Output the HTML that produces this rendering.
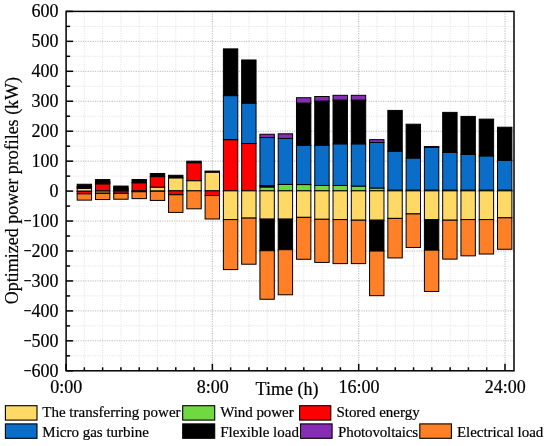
<!DOCTYPE html>
<html><head><meta charset="utf-8"><title>Optimized power profiles</title>
<style>
html,body{margin:0;padding:0;background:#fff;}
body{width:550px;height:446px;overflow:hidden;}
svg{display:block;}
svg text{font-family:"Liberation Serif","Times New Roman",serif;fill:#000;stroke:#000;stroke-width:0.2px;}
.t{font-size:18px;}
.l{font-size:15px;}
</style></head><body>
<svg width="550" height="446" viewBox="0 0 550 446">
<rect x="0" y="0" width="550" height="446" fill="#fff"/>
<g fill="none" stroke-width="0.9">
<line x1="84.34" y1="11.4" x2="84.34" y2="370.8" stroke="#dcdcdc" stroke-dasharray="1 1.4"/>
<line x1="102.63" y1="11.4" x2="102.63" y2="370.8" stroke="#dcdcdc" stroke-dasharray="1 1.4"/>
<line x1="120.92" y1="11.4" x2="120.92" y2="370.8" stroke="#dcdcdc" stroke-dasharray="1 1.4"/>
<line x1="139.21" y1="11.4" x2="139.21" y2="370.8" stroke="#dcdcdc" stroke-dasharray="1 1.4"/>
<line x1="157.50" y1="11.4" x2="157.50" y2="370.8" stroke="#dcdcdc" stroke-dasharray="1 1.4"/>
<line x1="175.79" y1="11.4" x2="175.79" y2="370.8" stroke="#dcdcdc" stroke-dasharray="1 1.4"/>
<line x1="194.08" y1="11.4" x2="194.08" y2="370.8" stroke="#dcdcdc" stroke-dasharray="1 1.4"/>
<line x1="212.37" y1="11.4" x2="212.37" y2="370.8" stroke="#b2b2b2" stroke-dasharray="1.2 1.2"/>
<line x1="230.66" y1="11.4" x2="230.66" y2="370.8" stroke="#dcdcdc" stroke-dasharray="1 1.4"/>
<line x1="248.95" y1="11.4" x2="248.95" y2="370.8" stroke="#dcdcdc" stroke-dasharray="1 1.4"/>
<line x1="267.24" y1="11.4" x2="267.24" y2="370.8" stroke="#dcdcdc" stroke-dasharray="1 1.4"/>
<line x1="285.53" y1="11.4" x2="285.53" y2="370.8" stroke="#dcdcdc" stroke-dasharray="1 1.4"/>
<line x1="303.82" y1="11.4" x2="303.82" y2="370.8" stroke="#dcdcdc" stroke-dasharray="1 1.4"/>
<line x1="322.11" y1="11.4" x2="322.11" y2="370.8" stroke="#dcdcdc" stroke-dasharray="1 1.4"/>
<line x1="340.40" y1="11.4" x2="340.40" y2="370.8" stroke="#dcdcdc" stroke-dasharray="1 1.4"/>
<line x1="358.69" y1="11.4" x2="358.69" y2="370.8" stroke="#b2b2b2" stroke-dasharray="1.2 1.2"/>
<line x1="376.98" y1="11.4" x2="376.98" y2="370.8" stroke="#dcdcdc" stroke-dasharray="1 1.4"/>
<line x1="395.27" y1="11.4" x2="395.27" y2="370.8" stroke="#dcdcdc" stroke-dasharray="1 1.4"/>
<line x1="413.56" y1="11.4" x2="413.56" y2="370.8" stroke="#dcdcdc" stroke-dasharray="1 1.4"/>
<line x1="431.85" y1="11.4" x2="431.85" y2="370.8" stroke="#dcdcdc" stroke-dasharray="1 1.4"/>
<line x1="450.14" y1="11.4" x2="450.14" y2="370.8" stroke="#dcdcdc" stroke-dasharray="1 1.4"/>
<line x1="468.43" y1="11.4" x2="468.43" y2="370.8" stroke="#dcdcdc" stroke-dasharray="1 1.4"/>
<line x1="486.72" y1="11.4" x2="486.72" y2="370.8" stroke="#dcdcdc" stroke-dasharray="1 1.4"/>
<line x1="505.01" y1="11.4" x2="505.01" y2="370.8" stroke="#b2b2b2" stroke-dasharray="1.2 1.2"/>
<line x1="66.1" y1="355.82" x2="514.0" y2="355.82" stroke="#dcdcdc" stroke-dasharray="1 1.4"/>
<line x1="66.1" y1="340.85" x2="514.0" y2="340.85" stroke="#b2b2b2" stroke-dasharray="1.2 1.2"/>
<line x1="66.1" y1="325.88" x2="514.0" y2="325.88" stroke="#dcdcdc" stroke-dasharray="1 1.4"/>
<line x1="66.1" y1="310.90" x2="514.0" y2="310.90" stroke="#b2b2b2" stroke-dasharray="1.2 1.2"/>
<line x1="66.1" y1="295.93" x2="514.0" y2="295.93" stroke="#dcdcdc" stroke-dasharray="1 1.4"/>
<line x1="66.1" y1="280.95" x2="514.0" y2="280.95" stroke="#b2b2b2" stroke-dasharray="1.2 1.2"/>
<line x1="66.1" y1="265.98" x2="514.0" y2="265.98" stroke="#dcdcdc" stroke-dasharray="1 1.4"/>
<line x1="66.1" y1="251.00" x2="514.0" y2="251.00" stroke="#b2b2b2" stroke-dasharray="1.2 1.2"/>
<line x1="66.1" y1="236.02" x2="514.0" y2="236.02" stroke="#dcdcdc" stroke-dasharray="1 1.4"/>
<line x1="66.1" y1="221.05" x2="514.0" y2="221.05" stroke="#b2b2b2" stroke-dasharray="1.2 1.2"/>
<line x1="66.1" y1="206.07" x2="514.0" y2="206.07" stroke="#dcdcdc" stroke-dasharray="1 1.4"/>
<line x1="66.1" y1="191.10" x2="514.0" y2="191.10" stroke="#b2b2b2" stroke-dasharray="1.2 1.2"/>
<line x1="66.1" y1="176.12" x2="514.0" y2="176.12" stroke="#dcdcdc" stroke-dasharray="1 1.4"/>
<line x1="66.1" y1="161.15" x2="514.0" y2="161.15" stroke="#b2b2b2" stroke-dasharray="1.2 1.2"/>
<line x1="66.1" y1="146.18" x2="514.0" y2="146.18" stroke="#dcdcdc" stroke-dasharray="1 1.4"/>
<line x1="66.1" y1="131.20" x2="514.0" y2="131.20" stroke="#b2b2b2" stroke-dasharray="1.2 1.2"/>
<line x1="66.1" y1="116.22" x2="514.0" y2="116.22" stroke="#dcdcdc" stroke-dasharray="1 1.4"/>
<line x1="66.1" y1="101.25" x2="514.0" y2="101.25" stroke="#b2b2b2" stroke-dasharray="1.2 1.2"/>
<line x1="66.1" y1="86.27" x2="514.0" y2="86.27" stroke="#dcdcdc" stroke-dasharray="1 1.4"/>
<line x1="66.1" y1="71.30" x2="514.0" y2="71.30" stroke="#b2b2b2" stroke-dasharray="1.2 1.2"/>
<line x1="66.1" y1="56.32" x2="514.0" y2="56.32" stroke="#dcdcdc" stroke-dasharray="1 1.4"/>
<line x1="66.1" y1="41.35" x2="514.0" y2="41.35" stroke="#b2b2b2" stroke-dasharray="1.2 1.2"/>
<line x1="66.1" y1="26.38" x2="514.0" y2="26.38" stroke="#dcdcdc" stroke-dasharray="1 1.4"/>
</g>
<g stroke="#000" stroke-width="1">
<rect x="77.17" y="188.30" width="14.40" height="2.85" fill="#FFD966"/>
<rect x="77.17" y="184.26" width="14.40" height="4.04" fill="#000000"/>
<rect x="77.17" y="186.36" width="14.40" height="0.90" fill="#0C2C50"/>
<rect x="77.17" y="191.30" width="14.40" height="2.55" fill="#FF0000"/>
<rect x="77.17" y="193.84" width="14.40" height="6.29" fill="#FF8027"/>
<rect x="95.45" y="183.81" width="14.40" height="7.04" fill="#FF0000"/>
<rect x="95.45" y="179.59" width="14.40" height="4.22" fill="#000000"/>
<rect x="95.45" y="181.87" width="14.40" height="0.90" fill="#0C2C50"/>
<rect x="95.45" y="190.85" width="14.40" height="2.55" fill="#8A7428"/>
<rect x="95.45" y="193.40" width="14.40" height="6.14" fill="#FF8027"/>
<rect x="113.72" y="186.06" width="14.40" height="4.79" fill="#000000"/>
<rect x="113.72" y="188.45" width="14.40" height="0.90" fill="#0C2C50"/>
<rect x="113.72" y="191.00" width="14.40" height="2.40" fill="#A01414"/>
<rect x="113.72" y="193.40" width="14.40" height="5.84" fill="#FF8027"/>
<rect x="132.00" y="182.76" width="14.40" height="8.09" fill="#FF0000"/>
<rect x="132.00" y="179.47" width="14.40" height="3.29" fill="#000000"/>
<rect x="132.00" y="190.85" width="14.40" height="0.90" fill="#FFD966"/>
<rect x="132.00" y="191.75" width="14.40" height="6.89" fill="#FF8027"/>
<rect x="150.28" y="187.11" width="14.40" height="3.74" fill="#FFD966"/>
<rect x="150.28" y="176.62" width="14.40" height="10.48" fill="#FF0000"/>
<rect x="150.28" y="173.48" width="14.40" height="3.14" fill="#000000"/>
<rect x="150.28" y="191.30" width="14.40" height="9.13" fill="#FF8027"/>
<rect x="168.55" y="177.82" width="14.40" height="13.03" fill="#FFD966"/>
<rect x="168.55" y="175.28" width="14.40" height="2.55" fill="#000000"/>
<rect x="168.55" y="190.85" width="14.40" height="3.89" fill="#FF0000"/>
<rect x="168.55" y="194.74" width="14.40" height="17.67" fill="#FF8027"/>
<rect x="186.82" y="180.67" width="14.40" height="10.18" fill="#FFD966"/>
<rect x="186.82" y="162.70" width="14.40" height="17.97" fill="#FF0000"/>
<rect x="186.82" y="161.20" width="14.40" height="1.50" fill="#000000"/>
<rect x="186.82" y="190.85" width="14.40" height="17.97" fill="#FF8027"/>
<rect x="205.10" y="172.13" width="14.40" height="18.72" fill="#FFD966"/>
<rect x="205.10" y="171.08" width="14.40" height="1.05" fill="#000000"/>
<rect x="205.10" y="190.85" width="14.40" height="4.64" fill="#FF0000"/>
<rect x="205.10" y="195.49" width="14.40" height="23.51" fill="#FF8027"/>
<rect x="223.38" y="139.64" width="14.40" height="51.21" fill="#FF0000"/>
<rect x="223.38" y="95.61" width="14.40" height="44.03" fill="#0A6EC8"/>
<rect x="223.38" y="48.89" width="14.40" height="46.72" fill="#000000"/>
<rect x="223.38" y="190.85" width="14.40" height="28.75" fill="#FFD966"/>
<rect x="223.38" y="219.60" width="14.40" height="50.02" fill="#FF8027"/>
<rect x="241.65" y="143.53" width="14.40" height="47.32" fill="#FF0000"/>
<rect x="241.65" y="103.10" width="14.40" height="40.43" fill="#0A6EC8"/>
<rect x="241.65" y="59.97" width="14.40" height="43.13" fill="#000000"/>
<rect x="241.65" y="190.85" width="14.40" height="27.25" fill="#FFD966"/>
<rect x="241.65" y="218.10" width="14.40" height="46.12" fill="#FF8027"/>
<rect x="259.93" y="186.96" width="14.40" height="3.89" fill="#70D840"/>
<rect x="259.93" y="185.61" width="14.40" height="1.35" fill="#000000"/>
<rect x="259.93" y="137.54" width="14.40" height="48.07" fill="#0A6EC8"/>
<rect x="259.93" y="134.24" width="14.40" height="3.29" fill="#852DB4"/>
<rect x="259.93" y="190.85" width="14.40" height="28.30" fill="#FFD966"/>
<rect x="259.93" y="219.15" width="14.40" height="31.60" fill="#000000"/>
<rect x="259.93" y="250.75" width="14.40" height="48.52" fill="#FF8027"/>
<rect x="278.20" y="184.41" width="14.40" height="6.44" fill="#70D840"/>
<rect x="278.20" y="138.44" width="14.40" height="45.97" fill="#0A6EC8"/>
<rect x="278.20" y="133.80" width="14.40" height="4.64" fill="#852DB4"/>
<rect x="278.20" y="190.85" width="14.40" height="28.30" fill="#FFD966"/>
<rect x="278.20" y="219.15" width="14.40" height="30.55" fill="#000000"/>
<rect x="278.20" y="249.70" width="14.40" height="45.07" fill="#FF8027"/>
<rect x="296.47" y="184.56" width="14.40" height="6.29" fill="#70D840"/>
<rect x="296.47" y="145.33" width="14.40" height="39.23" fill="#0A6EC8"/>
<rect x="296.47" y="103.10" width="14.40" height="42.23" fill="#000000"/>
<rect x="296.47" y="97.71" width="14.40" height="5.39" fill="#852DB4"/>
<rect x="296.47" y="190.85" width="14.40" height="26.51" fill="#FFD966"/>
<rect x="296.47" y="217.36" width="14.40" height="41.93" fill="#FF8027"/>
<rect x="314.75" y="185.46" width="14.40" height="5.39" fill="#70D840"/>
<rect x="314.75" y="145.33" width="14.40" height="40.13" fill="#0A6EC8"/>
<rect x="314.75" y="101.00" width="14.40" height="44.33" fill="#000000"/>
<rect x="314.75" y="96.51" width="14.40" height="4.49" fill="#852DB4"/>
<rect x="314.75" y="190.85" width="14.40" height="28.45" fill="#FFD966"/>
<rect x="314.75" y="219.30" width="14.40" height="43.13" fill="#FF8027"/>
<rect x="333.03" y="185.46" width="14.40" height="5.39" fill="#70D840"/>
<rect x="333.03" y="143.83" width="14.40" height="41.63" fill="#0A6EC8"/>
<rect x="333.03" y="100.10" width="14.40" height="43.73" fill="#000000"/>
<rect x="333.03" y="95.31" width="14.40" height="4.79" fill="#852DB4"/>
<rect x="333.03" y="190.85" width="14.40" height="28.75" fill="#FFD966"/>
<rect x="333.03" y="219.60" width="14.40" height="44.03" fill="#FF8027"/>
<rect x="351.30" y="186.06" width="14.40" height="4.79" fill="#70D840"/>
<rect x="351.30" y="143.83" width="14.40" height="42.23" fill="#0A6EC8"/>
<rect x="351.30" y="100.10" width="14.40" height="43.73" fill="#000000"/>
<rect x="351.30" y="95.31" width="14.40" height="4.79" fill="#852DB4"/>
<rect x="351.30" y="190.85" width="14.40" height="29.35" fill="#FFD966"/>
<rect x="351.30" y="220.20" width="14.40" height="43.43" fill="#FF8027"/>
<rect x="369.57" y="188.00" width="14.40" height="2.85" fill="#70D840"/>
<rect x="369.57" y="142.48" width="14.40" height="45.52" fill="#0A6EC8"/>
<rect x="369.57" y="139.64" width="14.40" height="2.85" fill="#852DB4"/>
<rect x="369.57" y="190.85" width="14.40" height="29.35" fill="#FFD966"/>
<rect x="369.57" y="220.20" width="14.40" height="30.85" fill="#000000"/>
<rect x="369.57" y="251.05" width="14.40" height="44.63" fill="#FF8027"/>
<rect x="387.85" y="190.10" width="14.40" height="0.75" fill="#000000"/>
<rect x="387.85" y="151.17" width="14.40" height="38.94" fill="#0A6EC8"/>
<rect x="387.85" y="110.43" width="14.40" height="40.73" fill="#000000"/>
<rect x="387.85" y="190.85" width="14.40" height="27.55" fill="#FFD966"/>
<rect x="387.85" y="218.40" width="14.40" height="39.53" fill="#FF8027"/>
<rect x="406.12" y="190.10" width="14.40" height="0.75" fill="#000000"/>
<rect x="406.12" y="158.05" width="14.40" height="32.05" fill="#0A6EC8"/>
<rect x="406.12" y="124.21" width="14.40" height="33.84" fill="#000000"/>
<rect x="406.12" y="190.85" width="14.40" height="23.06" fill="#FFD966"/>
<rect x="406.12" y="213.91" width="14.40" height="33.54" fill="#FF8027"/>
<rect x="424.40" y="190.10" width="14.40" height="0.75" fill="#000000"/>
<rect x="424.40" y="147.42" width="14.40" height="42.68" fill="#0A6EC8"/>
<rect x="424.40" y="146.52" width="14.40" height="0.90" fill="#000000"/>
<rect x="424.40" y="190.85" width="14.40" height="28.75" fill="#FFD966"/>
<rect x="424.40" y="219.60" width="14.40" height="30.55" fill="#000000"/>
<rect x="424.40" y="250.15" width="14.40" height="41.33" fill="#FF8027"/>
<rect x="442.68" y="190.10" width="14.40" height="0.75" fill="#000000"/>
<rect x="442.68" y="152.30" width="14.40" height="37.80" fill="#0A6EC8"/>
<rect x="442.68" y="112.38" width="14.40" height="39.92" fill="#000000"/>
<rect x="442.68" y="190.85" width="14.40" height="29.35" fill="#FFD966"/>
<rect x="442.68" y="220.20" width="14.40" height="38.93" fill="#FF8027"/>
<rect x="460.95" y="190.10" width="14.40" height="0.75" fill="#000000"/>
<rect x="460.95" y="154.40" width="14.40" height="35.70" fill="#0A6EC8"/>
<rect x="460.95" y="116.42" width="14.40" height="37.98" fill="#000000"/>
<rect x="460.95" y="190.85" width="14.40" height="28.75" fill="#FFD966"/>
<rect x="460.95" y="219.60" width="14.40" height="36.24" fill="#FF8027"/>
<rect x="479.22" y="190.10" width="14.40" height="0.75" fill="#000000"/>
<rect x="479.22" y="155.90" width="14.40" height="34.20" fill="#0A6EC8"/>
<rect x="479.22" y="119.12" width="14.40" height="36.78" fill="#000000"/>
<rect x="479.22" y="190.85" width="14.40" height="28.75" fill="#FFD966"/>
<rect x="479.22" y="219.60" width="14.40" height="34.44" fill="#FF8027"/>
<rect x="497.50" y="190.10" width="14.40" height="0.75" fill="#000000"/>
<rect x="497.50" y="160.30" width="14.40" height="29.80" fill="#0A6EC8"/>
<rect x="497.50" y="127.21" width="14.40" height="33.09" fill="#000000"/>
<rect x="497.50" y="190.85" width="14.40" height="26.96" fill="#FFD966"/>
<rect x="497.50" y="217.81" width="14.40" height="31.45" fill="#FF8027"/>
</g>
<g stroke="#000" stroke-width="1.5" fill="none">
<rect x="66.1" y="11.4" width="447.9" height="359.4"/>
<line x1="66.1" y1="370.80" x2="73.1" y2="370.80"/>
<line x1="66.1" y1="355.82" x2="70.1" y2="355.82"/>
<line x1="66.1" y1="340.85" x2="73.1" y2="340.85"/>
<line x1="66.1" y1="325.88" x2="70.1" y2="325.88"/>
<line x1="66.1" y1="310.90" x2="73.1" y2="310.90"/>
<line x1="66.1" y1="295.93" x2="70.1" y2="295.93"/>
<line x1="66.1" y1="280.95" x2="73.1" y2="280.95"/>
<line x1="66.1" y1="265.98" x2="70.1" y2="265.98"/>
<line x1="66.1" y1="251.00" x2="73.1" y2="251.00"/>
<line x1="66.1" y1="236.02" x2="70.1" y2="236.02"/>
<line x1="66.1" y1="221.05" x2="73.1" y2="221.05"/>
<line x1="66.1" y1="206.07" x2="70.1" y2="206.07"/>
<line x1="66.1" y1="191.10" x2="73.1" y2="191.10"/>
<line x1="66.1" y1="176.12" x2="70.1" y2="176.12"/>
<line x1="66.1" y1="161.15" x2="73.1" y2="161.15"/>
<line x1="66.1" y1="146.18" x2="70.1" y2="146.18"/>
<line x1="66.1" y1="131.20" x2="73.1" y2="131.20"/>
<line x1="66.1" y1="116.22" x2="70.1" y2="116.22"/>
<line x1="66.1" y1="101.25" x2="73.1" y2="101.25"/>
<line x1="66.1" y1="86.27" x2="70.1" y2="86.27"/>
<line x1="66.1" y1="71.30" x2="73.1" y2="71.30"/>
<line x1="66.1" y1="56.32" x2="70.1" y2="56.32"/>
<line x1="66.1" y1="41.35" x2="73.1" y2="41.35"/>
<line x1="66.1" y1="26.38" x2="70.1" y2="26.38"/>
<line x1="66.1" y1="11.40" x2="73.1" y2="11.40"/>
<line x1="66.05" y1="370.8" x2="66.05" y2="363.8"/>
<line x1="84.34" y1="370.8" x2="84.34" y2="367.3"/>
<line x1="102.63" y1="370.8" x2="102.63" y2="367.3"/>
<line x1="120.92" y1="370.8" x2="120.92" y2="367.3"/>
<line x1="139.21" y1="370.8" x2="139.21" y2="367.3"/>
<line x1="157.50" y1="370.8" x2="157.50" y2="367.3"/>
<line x1="175.79" y1="370.8" x2="175.79" y2="367.3"/>
<line x1="194.08" y1="370.8" x2="194.08" y2="367.3"/>
<line x1="212.37" y1="370.8" x2="212.37" y2="363.8"/>
<line x1="230.66" y1="370.8" x2="230.66" y2="367.3"/>
<line x1="248.95" y1="370.8" x2="248.95" y2="367.3"/>
<line x1="267.24" y1="370.8" x2="267.24" y2="367.3"/>
<line x1="285.53" y1="370.8" x2="285.53" y2="367.3"/>
<line x1="303.82" y1="370.8" x2="303.82" y2="367.3"/>
<line x1="322.11" y1="370.8" x2="322.11" y2="367.3"/>
<line x1="340.40" y1="370.8" x2="340.40" y2="367.3"/>
<line x1="358.69" y1="370.8" x2="358.69" y2="363.8"/>
<line x1="376.98" y1="370.8" x2="376.98" y2="367.3"/>
<line x1="395.27" y1="370.8" x2="395.27" y2="367.3"/>
<line x1="413.56" y1="370.8" x2="413.56" y2="367.3"/>
<line x1="431.85" y1="370.8" x2="431.85" y2="367.3"/>
<line x1="450.14" y1="370.8" x2="450.14" y2="367.3"/>
<line x1="468.43" y1="370.8" x2="468.43" y2="367.3"/>
<line x1="486.72" y1="370.8" x2="486.72" y2="367.3"/>
<line x1="505.01" y1="370.8" x2="505.01" y2="363.8"/>
</g>
<g class="t" text-anchor="end">
<text x="58.5" y="376.7"><tspan font-size="13px" dy="-2.0" stroke="#000" stroke-width="0.5">−</tspan><tspan dx="0.4" dy="2.0">600</tspan></text>
<text x="58.5" y="346.8"><tspan font-size="13px" dy="-2.0" stroke="#000" stroke-width="0.5">−</tspan><tspan dx="0.4" dy="2.0">500</tspan></text>
<text x="58.5" y="316.8"><tspan font-size="13px" dy="-2.0" stroke="#000" stroke-width="0.5">−</tspan><tspan dx="0.4" dy="2.0">400</tspan></text>
<text x="58.5" y="286.8"><tspan font-size="13px" dy="-2.0" stroke="#000" stroke-width="0.5">−</tspan><tspan dx="0.4" dy="2.0">300</tspan></text>
<text x="58.5" y="256.9"><tspan font-size="13px" dy="-2.0" stroke="#000" stroke-width="0.5">−</tspan><tspan dx="0.4" dy="2.0">200</tspan></text>
<text x="58.5" y="226.9"><tspan font-size="13px" dy="-2.0" stroke="#000" stroke-width="0.5">−</tspan><tspan dx="0.4" dy="2.0">100</tspan></text>
<text x="58.5" y="197.0">0</text>
<text x="58.5" y="167.1">100</text>
<text x="58.5" y="137.1">200</text>
<text x="58.5" y="107.2">300</text>
<text x="58.5" y="77.2">400</text>
<text x="58.5" y="47.2">500</text>
<text x="58.5" y="17.3">600</text>
</g>
<g class="t" text-anchor="middle">
<text x="66.3" y="393.0">0:00</text>
<text x="212.7" y="393.0">8:00</text>
<text x="359.0" y="393.0">16:00</text>
<text x="505.3" y="393.0">24:00</text>
<text x="287" y="395.0">Time (h)</text>
<text transform="translate(17.6,190.6) rotate(-90)" x="0" y="0">Optimized power profiles (kW)</text>
</g>
<g class="l">
<rect x="5.4" y="405.7" width="31.6" height="14.4" fill="#FFD966" stroke="#000" stroke-width="1.1"/>
<text x="42.3" y="417.4">The transferring power</text>
<rect x="5.4" y="423.9" width="31.6" height="14.4" fill="#0A6EC8" stroke="#000" stroke-width="1.1"/>
<text x="42.3" y="436.5">Micro gas turbine</text>
<rect x="182.7" y="405.7" width="32.0" height="14.4" fill="#70D840" stroke="#000" stroke-width="1.1"/>
<text x="220.2" y="417.4" textLength="73.5" lengthAdjust="spacing">Wind power</text>
<rect x="182.7" y="423.9" width="32.0" height="14.4" fill="#000000" stroke="#000" stroke-width="1.1"/>
<text x="220.2" y="436.5">Flexible load</text>
<rect x="299.6" y="405.7" width="31.2" height="14.4" fill="#FF0000" stroke="#000" stroke-width="1.1"/>
<text x="336.4" y="417.4" textLength="83.3" lengthAdjust="spacing">Stored energy</text>
<rect x="300.5" y="423.9" width="31.6" height="14.4" fill="#852DB4" stroke="#000" stroke-width="1.1"/>
<text x="338.1" y="436.5" textLength="80.0" lengthAdjust="spacing">Photovoltaics</text>
<rect x="419.8" y="423.9" width="31.6" height="14.4" fill="#FF8027" stroke="#000" stroke-width="1.1"/>
<text x="456.9" y="436.5" textLength="86.4" lengthAdjust="spacing">Electrical load</text>
</g>
</svg>
</body></html>
